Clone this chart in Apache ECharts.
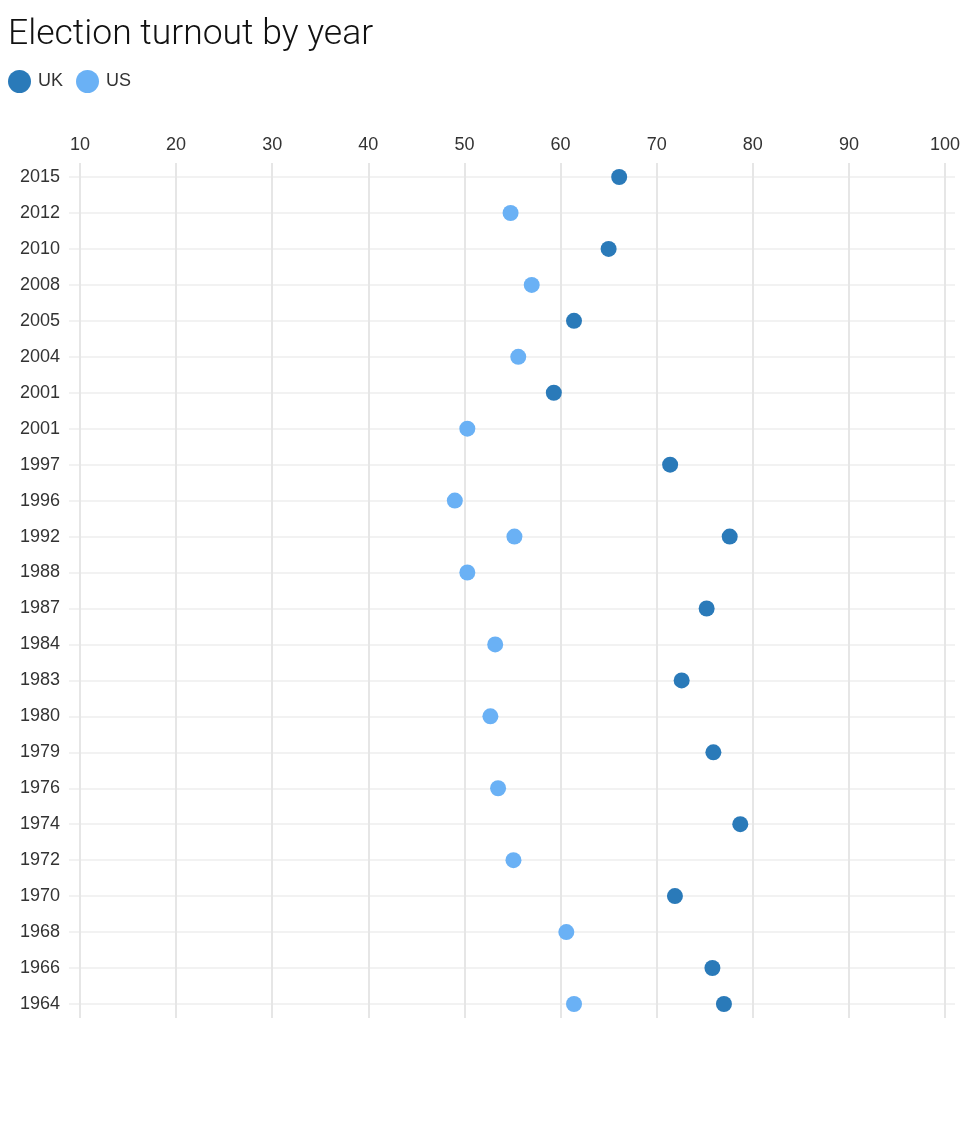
<!DOCTYPE html>
<html>
<head>
<meta charset="utf-8">
<script src="https://cdn.jsdelivr.net/npm/echarts@6/dist/echarts.min.js"></script>
<style>
  html, body { margin: 0; padding: 0; background: #fff; }
  #chart { width: 980px; height: 1143px; }
</style>
</head>
<body>
<div id="chart"></div>
<script>
// rows top to bottom
var years = ['2015', '2012', '2010', '2008', '2005', '2004', '2001', '2001', '1997', '1996', '1992', '1988',
  '1987', '1984', '1983', '1980', '1979', '1976', '1974', '1972', '1970', '1968', '1966', '1964']
var ukTurnout = [66.1, null, 65.0, null, 61.4, null, 59.3, null, 71.4, null, 77.6, null,
  75.2, null, 72.6, null, 75.9, null, 78.7, null, 71.9, null, 75.8, 77.0]
var usTurnout = [null, 54.8, null, 57.0, null, 55.6, null, 50.3, null, 49.0, 55.2, 50.3,
  null, 53.2, null, 52.7, null, 53.5, null, 55.1, null, 60.6, null, 61.4]
var xTicks = { min: 10, max: 100, interval: 10 }

function toPoints (values) {
  var out = []
  values.forEach(function (v, i) {
    if (v !== null) out.push([v, i])
  })
  return out
}

var font = '"Liberation Sans", Arial, sans-serif'

var chart = echarts.init(document.getElementById('chart'))
chart.setOption({
  animation: false,
  color: ['#2a7ab9', '#6ab1f5'],
  title: {
    text: 'Election turnout by year',
    left: 3,
    top: 12,
    textStyle: { fontFamily: 'Roboto, sans-serif', fontSize: 35.5, fontWeight: 300, color: '#111' }
  },
  legend: {
    left: 3,
    top: 65,
    icon: 'circle',
    itemWidth: 23,
    itemHeight: 23,
    itemGap: 13,
    textStyle: { fontFamily: font, fontSize: 18, color: '#333', padding: [0, 0, 0, 2] },
    data: ['UK', 'US']
  },
  grid: [
    // horizontal row lines + year labels
    { left: 69, right: 25, top: 177, height: 827 },
    // vertical lines + dots
    { left: 80, right: 35, top: 163, bottom: 125 }
  ],
  xAxis: [
    { gridIndex: 0, type: 'value', min: 0, max: 1, show: false },
    {
      gridIndex: 1,
      type: 'value',
      position: 'top',
      min: xTicks.min,
      max: xTicks.max,
      interval: xTicks.interval,
      axisLine: { show: false },
      axisTick: { show: false },
      axisLabel: { fontFamily: font, fontSize: 18, color: '#333', margin: 9 },
      splitLine: { show: true, lineStyle: { color: '#e6e6e6', width: 2 } }
    }
  ],
  yAxis: [
    {
      gridIndex: 0,
      type: 'category',
      inverse: true,
      boundaryGap: false,
      data: years,
      axisLine: { show: false },
      axisTick: { show: false },
      axisLabel: { fontFamily: font, fontSize: 18, color: '#333', margin: 9 },
      splitLine: { show: true, lineStyle: { color: '#f2f2f2', width: 2 } }
    },
    {
      gridIndex: 1,
      type: 'value',
      inverse: true,
      min: -0.39,
      max: 23.39,
      show: false
    }
  ],
  series: [
    {
      name: 'UK',
      type: 'scatter',
      xAxisIndex: 1,
      yAxisIndex: 1,
      symbolSize: 16,
      itemStyle: { opacity: 1 },
      data: toPoints(ukTurnout)
    },
    {
      name: 'US',
      type: 'scatter',
      xAxisIndex: 1,
      yAxisIndex: 1,
      symbolSize: 16,
      itemStyle: { opacity: 1 },
      data: toPoints(usTurnout)
    }
  ]
})
</script>
</body>
</html>
